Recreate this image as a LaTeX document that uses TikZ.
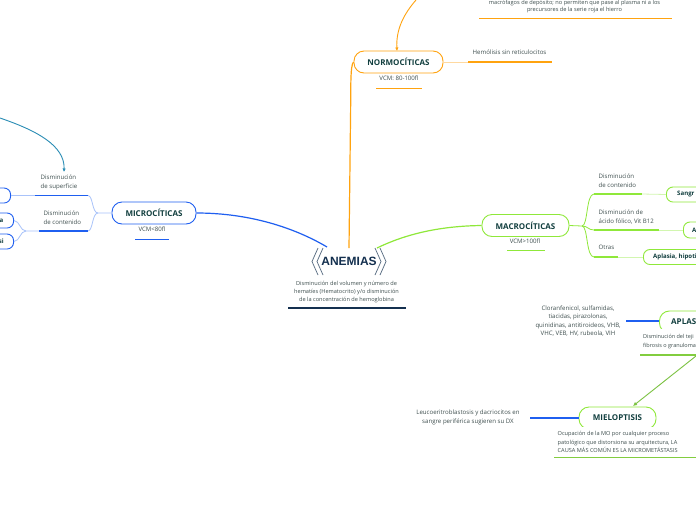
\documentclass[tikz,border=0pt]{standalone}
\usetikzlibrary{arrows.meta}
\usepackage{fontspec}
\setmainfont{Open Sans}
\newfontfamily\titlefont{Liberation Sans}
\definecolor{cblue}{HTML}{1F5FF0}
\definecolor{cblueL}{HTML}{A9C3FA}
\definecolor{corange}{HTML}{FFA30F}
\definecolor{corangeL}{HTML}{FFD9A0}
\definecolor{cgreen}{HTML}{8FE83A}
\definecolor{cgreenL}{HTML}{D2F6B0}
\definecolor{cgreenD}{HTML}{7CC242}
\definecolor{cteal}{HTML}{2A8DB5}
\definecolor{ctitle}{HTML}{123F3F}
\definecolor{ctext}{HTML}{3F4F4F}
\definecolor{cnavy}{HTML}{14304F}
\tikzset{
 pill/.style={draw=#1,line width=0.9pt,rounded corners=10pt,minimum height=22pt,inner sep=0pt,fill=white,
   font=\fontsize{8}{9}\selectfont\bfseries,text=ctitle},
 small pill/.style={pill=#1,minimum height=15pt,rounded corners=6.5pt},
 small name/.style={font=\fontsize{6.1}{8}\selectfont\bfseries,text=ctitle,inner sep=0pt},
 lab/.style={font=\fontsize{6.1}{8.6}\selectfont,text=ctext,inner sep=0.5pt,align=left,anchor=north west},
 clab/.style={font=\fontsize{6.1}{8.6}\selectfont,text=ctext,inner sep=0.5pt,align=center,fill=white},
 rulebar/.style={line width=1.5pt,#1},
 thin link/.style={line width=0.8pt,#1},
 main link/.style={line width=1.2pt,#1}
}
\begin{document}
\begin{tikzpicture}[x=1pt,y=-1pt]
\useasboundingbox (0,0) rectangle (696,520);
\clip (0,0) rectangle (696,520);
\fill[white] (0,0) rectangle (696,520);

% named points
\coordinate (anemL) at (327,247);
\coordinate (anemT) at (349,248);
\coordinate (anemR) at (377,248);

% pills
\node[pill=cblue,minimum width=84pt] (micro) at (154,213) {MICROCÍTICAS};
\node[pill=corange,minimum width=89pt] (normo) at (398.5,62) {NORMOCÍTICAS};
\node[pill=cgreen,minimum width=87pt] (macro) at (525.5,225.5) {MACROCÍTICAS};
\node[pill=cgreen,minimum width=80pt,anchor=west] (aplas) at (659,322) {};
\node[font=\fontsize{8}{9}\selectfont\bfseries,text=ctitle,inner sep=0pt,anchor=west] (aplast) at (671,322) {APLAS};
\node[pill=cgreen,minimum width=77pt] (mielo) at (617.5,418) {MIELOPTISIS};
\node[small pill=cblue,minimum width=30pt,anchor=east] (m1) at (11,195.5) {};
\node[small pill=cblue,minimum width=30pt,anchor=east] (m2) at (14,220.5) {};
\node[small pill=cblue,minimum width=30pt,anchor=east] (m3) at (14,241.5) {};
\node[small name,anchor=east] (m2t) at (3.5,220.5) {a};
\node[small name,anchor=east] (m3t) at (4,241.5) {si};
\node[small pill=cgreen,minimum width=60pt,anchor=west] (g1) at (666,194.5) {};
\node[small pill=cgreen,minimum width=60pt,minimum height=16pt,anchor=west] (g2) at (683,230) {};
\node[small pill=cgreen,minimum width=90pt,anchor=west] (g3) at (643,257) {};
\node[small name,anchor=west] (g1t) at (677,194.5) {Sangr};
\node[small name,anchor=west] (g2t) at (692,230) {A};
\node[small name,anchor=west] (g3t) at (653,257) {Aplasia, hipoti};

% main links
\draw[main link=cblue] (micro.east) .. controls (250,213) and (295,228) .. (anemL);
\draw[main link=corange] (normo.west) .. controls (350,65) and (351,90) .. (350.5,120) -- (anemT);
\draw[main link=cgreen] (anemR) .. controls (410,232) and (445,226) .. (macro.west);
\draw[line width=0.9pt,corange,-{Latex[length=3.5pt,width=3.5pt]}] (416,0) .. controls (403,15) and (396,30) .. (397,51);
\draw[line width=0.9pt,cteal,-{Latex[length=3.5pt,width=3.5pt]}] (0,118) .. controls (35,130) and (65,145) .. (64,172);

% micro branch
\coordinate (mj) at (98,213);
\coordinate (mr1a) at (35,195.5); \coordinate (mr1b) at (88,195.5);
\coordinate (mr2a) at (39,231); \coordinate (mr2b) at (88,231);
\coordinate (mj2) at (26,231);
\draw[thin link=cblueL] (micro.west) -- (mj) .. controls (92,213) and (93,195.5) .. (mr1b);
\draw[thin link=cblueL] (mj) .. controls (92,213) and (93,231) .. (mr2b);
\draw[thin link=cblueL] (m1.east) -- (mr1a);
\draw[thin link=cblueL] (mr2a) -- (mj2) .. controls (20,231) and (20,221) .. (m2.east);
\draw[thin link=cblueL] (mj2) .. controls (20,231) and (20,241) .. (m3.east);
\draw[rulebar=cblue] (mr1a) -- (mr1b);
\draw[rulebar=cblue] (mr2a) -- (mr2b);

% normo branch
\coordinate (nr1) at (468,62); \coordinate (nr2) at (552,62);
\draw[thin link=corangeL] (normo.east) -- (nr1);
\draw[rulebar=corange] (nr1) -- (nr2);

% macro branch
\coordinate (gj) at (582,226);
\coordinate (r1a) at (594,194); \coordinate (r1b) at (642,194);
\coordinate (r2a) at (594,230); \coordinate (r2b) at (659,230);
\coordinate (r3a) at (594,257); \coordinate (r3b) at (618,257);
\draw[thin link=cgreen] (macro.east) -- (gj) .. controls (588,226) and (586,194) .. (r1a);
\draw[thin link=cgreen] (gj) .. controls (588,226) and (588,230) .. (r2a);
\draw[thin link=cgreen] (gj) .. controls (588,226) and (586,257) .. (r3a);
\draw[thin link=cgreenL] (r1b) -- (g1.west);
\draw[thin link=cgreenL] (r2b) -- (g2.west);
\draw[thin link=cgreenL] (r3b) -- (g3.west);
\draw[rulebar=cgreen] (r1a) -- (r1b);
\draw[rulebar=cgreen] (r2a) -- (r2b);
\draw[rulebar=cgreen] (r3a) -- (r3b);

% lower links
\coordinate (cl) at (626,321);
\coordinate (ll) at (530,418);
\coordinate (ap) at (696,356);
\draw[rulebar=cblue,line width=1.1pt] (cl) -- (aplas.west |- cl);
\draw[rulebar=cblue,line width=1.1pt] (ll) -- (mielo.west);

% sublabels
\node[clab] (t1) at (152,229.5) {VCM<80fl};
\draw[rulebar=cblue] (135,239.5) -- (169,239.5);
\node[clab] (t2) at (399,78.5) {VCM: 80-100fl};
\draw[rulebar=corange] (376,88.5) -- (422,88.5);
\node[clab] (t3) at (525,241) {VCM>100fl};
\draw[rulebar=cgreen] (507,250.5) -- (545,250.5);

\node[lab] at (40,174.5) {Disminución\\de superficie};
\node[lab] at (43,210.5) {Disminución\\de contenido};
\node[lab] at (472,49.5) {Hemólisis sin reticulocitos};
\node[lab] at (598,173.5) {Disminución\\de contenido};
\node[lab] at (598,209.5) {Disminución de\\ácido fólico, Vit B12};
\node[lab] at (598,244.5) {Otras};

% top right
\node[clab,font=\fontsize{5.65}{7.6}\selectfont] at (574.5,6.5) {macrófagos de depósito; no permiten que pase al plasma ni a los\\precursores de la serie roja el hierro};
\draw[rulebar=corange] (479,18.5) -- (672,18.5);

% central
\node[font=\titlefont\fontsize{12}{14}\selectfont\bfseries,text=cnavy,inner sep=0pt] (anem) at (349,261.5) {ANEMIAS};
\foreach \d in {0,5}{
 \draw[line width=0.7pt,cnavy!75] (318+\d,248) -- (312+\d,261.5) -- (318+\d,275);
 \draw[line width=0.7pt,cnavy!75] (380-\d,248) -- (386-\d,261.5) -- (380-\d,275);
}
\node[clab,font=\fontsize{5.6}{8}\selectfont] at (346.5,292) {Disminución del volumen y número de\\hematíes (Hematocrito) y/o disminución\\de la concentración de hemoglobina};
\draw[line width=1.2pt,cnavy] (288,308) -- (406,308);

% lower texts
\node[clab] at (578,321) {Cloranfenicol, sulfamidas,\\tiacidas, pirazolonas,\\quinidinas, antitiroideos, VHB,\\VHC, VEB, HV, rubeola, VIH};
\node[lab,fill=white,inner ysep=5.5pt,inner xsep=0.5pt,font=\fontsize{5.5}{8.2}\selectfont] (apdesc) at (642.5,329) {Disminución del teji\\fibrosis o granuloma};
\draw[rulebar=cgreenD!70!cgreen] (640,355) -- (696,355);
\draw[line width=0.9pt,cgreenD,-{Latex[length=4pt,width=4pt]}] (ap) -- (633,406);
\node[clab] at (468,417.5) {Leucoeritroblastosis y dacriocitos en\\sangre periférica sugieren su DX};
\node[lab,fill=white,inner ysep=5pt,font=\fontsize{5.6}{8.3}\selectfont] at (557,426.5) {Ocupación de la MO por cualquier proceso\\patológico que distorsiona su arquitectura, LA\\CAUSA MÁS COMÚN ES LA MICROMETÁSTASIS};
\draw[rulebar=cgreenD!70!cgreen] (554,457.5) -- (696,457.5);
\end{tikzpicture}
\end{document}
